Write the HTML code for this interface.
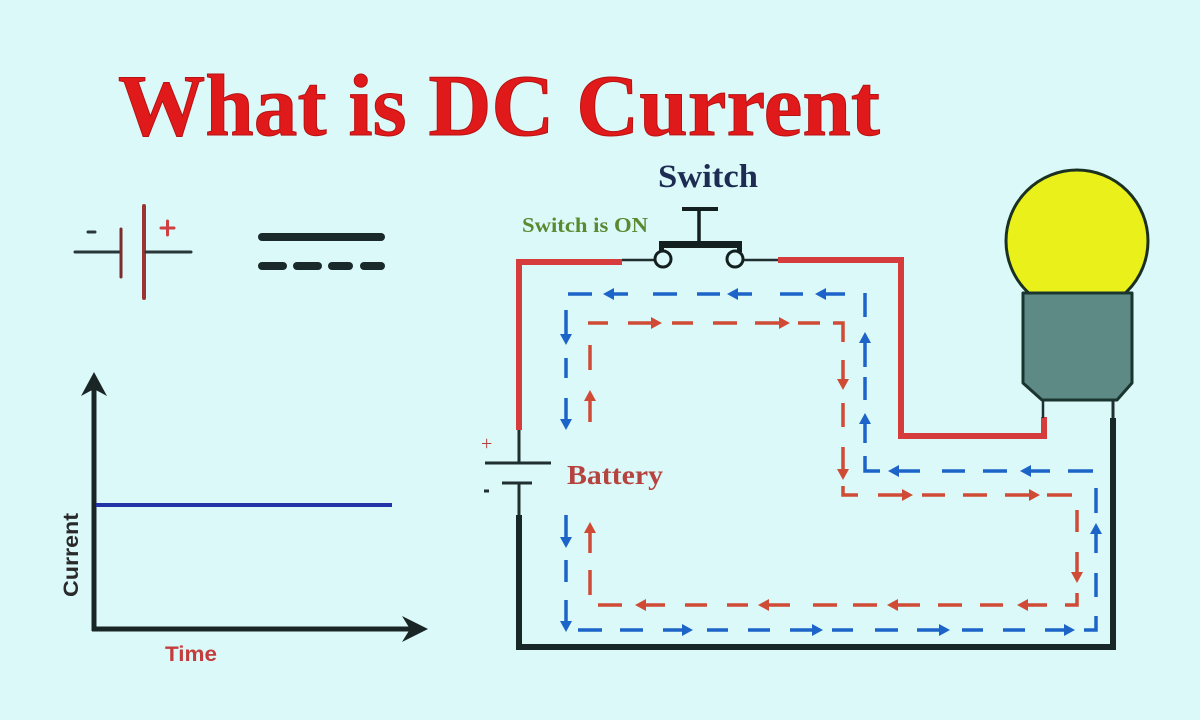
<!DOCTYPE html>
<html>
<head>
<meta charset="utf-8">
<style>
  html,body{margin:0;padding:0;background:#dcf9fa;}
  svg{display:block;}
</style>
</head>
<body>
<svg width="1200" height="720" viewBox="0 0 1200 720" xmlns="http://www.w3.org/2000/svg">
  <rect x="0" y="0" width="1200" height="720" fill="#dcf9fa"/>

  <!-- Title -->
  <text x="118" y="135" font-family="Liberation Serif, serif" font-weight="bold" font-size="88" fill="#e0191b" stroke="#b81212" stroke-width="1" textLength="762" lengthAdjust="spacingAndGlyphs">What is DC Current</text>

  <!-- Battery symbol (top-left) -->
  <g stroke-linecap="round">
    <line x1="75" y1="252" x2="120" y2="252" stroke="#283838" stroke-width="3"/>
    <line x1="121" y1="229" x2="121" y2="277" stroke="#7b2c2c" stroke-width="3"/>
    <line x1="144" y1="206" x2="144" y2="298" stroke="#9a3535" stroke-width="4"/>
    <line x1="146" y1="252" x2="191" y2="252" stroke="#283838" stroke-width="3"/>
    <line x1="88" y1="232" x2="95" y2="232" stroke="#283838" stroke-width="3"/>
    <line x1="161" y1="228" x2="174" y2="228" stroke="#d04040" stroke-width="3"/>
    <line x1="167.5" y1="221" x2="167.5" y2="235" stroke="#d04040" stroke-width="3"/>
  </g>

  <!-- DC symbol -->
  <g stroke="#1a2a2a" stroke-width="8" stroke-linecap="round">
    <line x1="262" y1="237" x2="381" y2="237"/>
    <line x1="262" y1="266" x2="283" y2="266"/>
    <line x1="297" y1="266" x2="318" y2="266"/>
    <line x1="332" y1="266" x2="349" y2="266"/>
    <line x1="364" y1="266" x2="381" y2="266"/>
  </g>

  <!-- Graph -->
  <line x1="94" y1="385" x2="94" y2="631" stroke="#1a2626" stroke-width="5"/>
  <line x1="92" y1="629" x2="418" y2="629" stroke="#1a2626" stroke-width="5"/>
  <polygon points="94,372 107,396 94,389 81,396" fill="#1a2626"/>
  <polygon points="428,629 402,616 410,629 402,642" fill="#1a2626"/>
  <line x1="96" y1="505" x2="392" y2="505" stroke="#2234a8" stroke-width="4"/>
  <text transform="translate(78,555) rotate(-90)" text-anchor="middle" font-family="Liberation Sans, sans-serif" font-weight="bold" font-size="21" fill="#2a2a2a" textLength="84" lengthAdjust="spacingAndGlyphs">Current</text>
  <text x="165" y="661" font-family="Liberation Sans, sans-serif" font-weight="bold" font-size="21" fill="#c43c3c" textLength="52" lengthAdjust="spacingAndGlyphs">Time</text>

  <!-- Labels -->
  <text x="658" y="187" font-family="Liberation Serif, serif" font-weight="bold" font-size="33" fill="#1c2c52" textLength="100" lengthAdjust="spacingAndGlyphs">Switch</text>
  <text x="522" y="232" font-family="Liberation Serif, serif" font-weight="bold" font-size="21" fill="#5a8a30" textLength="126" lengthAdjust="spacingAndGlyphs">Switch is ON</text>
  <text x="567" y="484" font-family="Liberation Serif, serif" font-weight="bold" font-size="27" fill="#b5433f" textLength="96" lengthAdjust="spacingAndGlyphs">Battery</text>

  <!-- Lamp -->
  <circle cx="1077" cy="241" r="71" fill="#eaf01a" stroke="#1a3020" stroke-width="3"/>
  <polygon points="1023,293 1132,293 1132,383 1117,400 1042,400 1023,383" fill="#5e8a85" stroke="#1a3530" stroke-width="3" stroke-linejoin="round"/>

  <!-- Wires -->
  <g fill="none" stroke-linejoin="miter">
    <path d="M519,430 L519,262 L622,262" stroke="#d63c3c" stroke-width="6"/>
    <path d="M778,260 L901,260 L901,436 L1044,436 L1044,417" stroke="#d63c3c" stroke-width="6"/>
    <path d="M622,260 L655,260 M743,260 L778,260" stroke="#1f2f2f" stroke-width="2.5"/>
    <path d="M1043,400 L1043,418" stroke="#1f2f2f" stroke-width="2.5"/>
    <path d="M1113,400 L1113,420" stroke="#1f2f2f" stroke-width="3"/>
    <path d="M519,430 L519,463 M519,483 L519,515" stroke="#1f2f2f" stroke-width="3"/>
    <path d="M519,515 L519,647 L1113,647 L1113,418" stroke="#182828" stroke-width="6"/>
    <path d="M485,463 L551,463" stroke="#1f2f2f" stroke-width="3"/>
    <path d="M502,483 L532,483" stroke="#1f2f2f" stroke-width="3"/>
  </g>
  <text x="481" y="450" font-family="Liberation Serif, serif" font-size="20" fill="#b04040">+</text>
  <line x1="484" y1="491" x2="489" y2="491" stroke="#1f2f2f" stroke-width="3"/>

  <!-- Switch -->
  <g>
    <circle cx="663" cy="259" r="8" fill="#dcf9fa" stroke="#142020" stroke-width="3"/>
    <circle cx="735" cy="259" r="8" fill="#dcf9fa" stroke="#142020" stroke-width="3"/>
    <rect x="659" y="241" width="83" height="7" fill="#142020"/>
    <rect x="659" y="241" width="5" height="11" fill="#142020"/>
    <rect x="737" y="241" width="5" height="11" fill="#142020"/>
    <line x1="699" y1="209" x2="699" y2="242" stroke="#142020" stroke-width="3.5"/>
    <line x1="682" y1="209" x2="718" y2="209" stroke="#142020" stroke-width="4"/>
  </g>

  <!-- Blue dashed flow -->
  <g stroke="#1c64c8" stroke-width="3.5" fill="none">
    <path d="M568,294H592 M653,294H677 M697,294H720 M780,294H803
             M566,358V378 M566,560V582
             M578,630H602 M620,630H643 M707,630H728 M748,630H770 M832,630H853 M875,630H898 M962,630H983 M1003,630H1025 M1084,630H1096V616
             M1096,573V597 M1096,488V513
             M1068,471H1093 M983,471H1007 M942,471H965 M880,471H865V456
             M865,377V400 M865,293V317"/>
    <path d="M628,294H611 M752,294H735 M845,294H823
             M566,310V337 M566,398V422 M566,515V540 M566,600V624
             M663,630H685 M790,630H815 M917,630H942 M1045,630H1067
             M1096,553V531
             M920,471H896 M1050,471H1028
             M865,367V340 M865,443V421"/>
  </g>
  <g fill="#1c64c8">
    <polygon points="603,294 614,288 614,300"/>
    <polygon points="727,294 738,288 738,300"/>
    <polygon points="815,294 826,288 826,300"/>
    <polygon points="566,345 560,334 572,334"/>
    <polygon points="566,430 560,419 572,419"/>
    <polygon points="566,548 560,537 572,537"/>
    <polygon points="566,632 560,621 572,621"/>
    <polygon points="693,630 682,624 682,636"/>
    <polygon points="823,630 812,624 812,636"/>
    <polygon points="950,630 939,624 939,636"/>
    <polygon points="1075,630 1064,624 1064,636"/>
    <polygon points="1096,523 1090,534 1102,534"/>
    <polygon points="888,471 899,465 899,477"/>
    <polygon points="1020,471 1031,465 1031,477"/>
    <polygon points="865,332 859,343 871,343"/>
    <polygon points="865,413 859,424 871,424"/>
  </g>

  <!-- Red dashed flow -->
  <g stroke="#cf4b35" stroke-width="3.5" fill="none">
    <path d="M588,323H608 M672,323H693 M713,323H737 M798,323H820 M833,323H843V342
             M590,345V370 M590,570V595
             M843,403V427 M843,486V495H858
             M922,495H945 M963,495H987 M1047,495H1072
             M1077,510V532 M1077,593V605H1065
             M980,605H1003 M938,605H962 M853,605H877 M813,605H837 M727,605H748 M685,605H707 M598,605H622"/>
    <path d="M628,323H654 M755,323H782
             M590,422V398 M590,553V530
             M843,360V382 M843,447V472
             M878,495H905 M1005,495H1032
             M1077,552V575
             M1047,605H1025 M920,605H895 M790,605H766 M665,605H643"/>
  </g>
  <g fill="#cf4b35">
    <polygon points="662,323 651,317 651,329"/>
    <polygon points="790,323 779,317 779,329"/>
    <polygon points="590,390 584,401 596,401"/>
    <polygon points="590,522 584,533 596,533"/>
    <polygon points="843,390 837,379 849,379"/>
    <polygon points="843,480 837,469 849,469"/>
    <polygon points="913,495 902,489 902,501"/>
    <polygon points="1040,495 1029,489 1029,501"/>
    <polygon points="1077,583 1071,572 1083,572"/>
    <polygon points="1017,605 1028,599 1028,611"/>
    <polygon points="887,605 898,599 898,611"/>
    <polygon points="758,605 769,599 769,611"/>
    <polygon points="635,605 646,599 646,611"/>
  </g>
</svg>
</body>
</html>
